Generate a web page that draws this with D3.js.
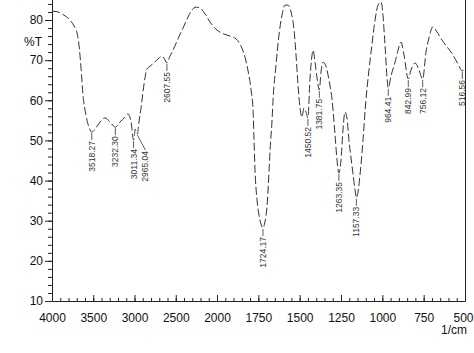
<!DOCTYPE html>
<html>
<head>
<meta charset="utf-8">
<script src="https://cdn.jsdelivr.net/npm/d3@7"></script>
<style>
  body { margin: 0; background: #fff; }
  svg { display: block; font-family: Arial, "Liberation Sans", sans-serif; }
</style>
</head>
<body>
<script>
// spectrum trace, wavenumber (1/cm) and transmittance (%T)
const wavenumbers = [
  4000, 3927, 3855, 3782, 3733, 3697, 3673, 3648, 3624, 3588, 3552, 3518,
  3467, 3418, 3358, 3297, 3232, 3176, 3115, 3079, 3042, 3011, 2990, 2965,
  2946, 2921, 2897, 2873, 2849, 2812, 2764, 2715, 2667, 2642, 2607, 2570,
  2533, 2473, 2412, 2352, 2303, 2255, 2206, 2145, 2085, 2000, 1958, 1921,
  1885, 1855, 1831, 1813, 1794, 1782, 1776, 1770, 1758, 1746, 1734, 1722,
  1710, 1698, 1685, 1679, 1667, 1661, 1643, 1625, 1607, 1589, 1571, 1552,
  1534, 1522, 1510, 1498, 1486, 1474, 1462, 1450, 1438, 1425, 1419, 1407,
  1395, 1381, 1371, 1359, 1341, 1323, 1304, 1286, 1274, 1263, 1250, 1238,
  1226, 1214, 1202, 1184, 1165, 1157, 1135, 1117, 1099, 1081, 1063, 1044,
  1026, 1008, 996, 984, 964, 948, 923, 905, 887, 869, 843, 827,
  802, 778, 756, 736, 718, 694, 669, 639, 603, 573, 542, 516, 500
];
const transmittance = [
  82.2, 82.0, 81.2, 80.0, 78.5, 76.8, 73.8, 68.0, 61.3, 56.3, 53.3, 52.1,
  53.1, 54.6, 55.6, 54.6, 53.3, 54.6, 55.8, 56.6, 54.6, 50.1, 52.8, 51.6,
  54.6, 58.1, 62.1, 65.6, 67.8, 68.5, 69.3, 70.3, 71.0, 70.5, 69.3, 71.0,
  72.5, 75.3, 78.0, 80.7, 82.5, 83.2, 83.0, 81.5, 79.5, 77.5, 76.5, 76.0,
  75.3, 73.5, 70.8, 67.5, 62.6, 57.6, 50.1, 42.6, 35.2, 31.4, 29.2, 28.2,
  29.7, 33.4, 42.6, 47.6, 55.1, 60.1, 68.8, 76.3, 81.2, 83.7, 83.7, 82.0,
  77.5, 71.3, 63.8, 58.1, 55.8, 58.1, 57.1, 55.6, 65.1, 71.3, 72.5, 69.5,
  65.6, 62.6, 67.0, 69.5, 68.5, 65.1, 60.1, 51.4, 45.1, 41.9, 45.1, 52.6,
  57.1, 55.6, 50.1, 43.9, 37.7, 35.7, 41.4, 50.1, 60.1, 67.5, 73.8, 80.0,
  83.7, 84.5, 81.2, 73.8, 63.1, 66.0, 69.5, 72.5, 74.5, 71.3, 65.3, 67.5,
  69.3, 67.5, 65.3, 72.0, 75.5, 78.3, 77.0, 75.0, 73.0, 71.3, 69.0, 67.3, 68.3
];

// labelled absorption peaks
const peakLabels = [
  "3518.27", "3232.30", "3011.34", "2965.04", "2607.55", "1724.17", "1450.52",
  "1381.75", "1263.35", "1157.33", "964.41", "842.99", "756.12", "516.56"
];
const peakWn = [3518, 3232, 3011, 2965, 2607, 1722, 1450, 1381, 1263, 1157, 964, 843, 756, 516];
const peakT = [52.1, 53.3, 50.1, 51.6, 69.3, 28.2, 55.6, 62.6, 41.9, 35.7, 63.1, 65.3, 65.3, 67.3];

const xTicks = [4000, 3500, 3000, 2500, 2000, 1750, 1500, 1250, 1000, 750, 500];
const yTicks = [10, 20, 30, 40, 50, 60, 70, 80];

const width = 474;
const height = 353;
const left = 52;
const right = 465;
const bottom = 301;

// the instrument doubles the scale below 2000 1/cm
const xScale = d3.scaleLinear().domain([4000, 2000, 500]).range([left, 217, right]);
const yScale = d3.scaleLinear().domain([10, 80]).range([bottom, 20]);

const svg = d3
  .select("body")
  .append("svg")
  .attr("width", width)
  .attr("height", height);

// minor ticks
const xMinor = d3.range(4000, 2000, -100).concat(d3.range(2000, 499, -50));
const yMinor = d3.range(10, 86, 2);

svg
  .append("g")
  .attr("transform", `translate(0 ${bottom})`)
  .call(d3.axisBottom(xScale).tickValues(xMinor).tickSize(-3).tickFormat(""))
  .call((g) => g.select(".domain").remove());

svg
  .append("g")
  .attr("transform", `translate(${left} 0)`)
  .call(d3.axisLeft(yScale).tickValues(yMinor).tickSize(4).tickFormat(""))
  .call((g) => g.select(".domain").remove());

const xAxis = svg
  .append("g")
  .attr("transform", `translate(0 ${bottom})`)
  .call(
    d3.axisBottom(xScale)
      .tickValues(xTicks)
      .tickFormat(d3.format("d"))
      .tickSize(-6)
      .tickPadding(12)
      .tickSizeOuter(0)
  );

// keep the last label inside the window
xAxis.selectAll(".tick text").filter((d) => d === 500).attr("dx", -2);

const yAxis = svg
  .append("g")
  .attr("transform", `translate(${left} 0)`)
  .call(d3.axisLeft(yScale).tickValues(yTicks).tickSize(7).tickPadding(2).tickSizeOuter(0));

yAxis.select(".domain").attr("d", `M0.5,${bottom + 0.5}V0`);

svg.selectAll(".tick text").attr("font-size", 12).attr("fill", "#111");
svg.selectAll(".domain, .tick line").attr("stroke", "#222");

// right frame
svg
  .append("line")
  .attr("x1", right + 0.5)
  .attr("x2", right + 0.5)
  .attr("y1", 0)
  .attr("y2", bottom + 0.5)
  .attr("stroke", "#222");

svg
  .append("text")
  .attr("x", 42)
  .attr("y", yScale(74.8) + 5)
  .attr("text-anchor", "end")
  .attr("font-size", 12)
  .attr("fill", "#111")
  .text("%T");

svg
  .append("text")
  .attr("x", right + 2)
  .attr("y", 334)
  .attr("text-anchor", "end")
  .attr("font-size", 12)
  .attr("fill", "#111")
  .text("1/cm");

// spectrum
const points = wavenumbers.map((w, i) => [xScale(w), yScale(transmittance[i])]);

svg
  .append("path")
  .attr("d", d3.line().curve(d3.curveMonotoneX)(points))
  .attr("fill", "none")
  .attr("stroke", "#333")
  .attr("stroke-width", 1)
  .attr("stroke-dasharray", "8,3");

// peak labels: leader then rotated text, nudged right when crowded
let prevX = -100;
const shifts = peakWn.map((w) => {
  const x = xScale(w);
  const dx = x - prevX < 8 ? 8 : 0;
  prevX = x + dx;
  return dx;
});

const peaks = svg
  .selectAll(".peak")
  .data(peakLabels)
  .enter()
  .append("g")
  .attr("class", "peak")
  .attr("transform", (d, i) => `translate(${xScale(peakWn[i])} ${yScale(peakT[i])})`);

peaks
  .append("line")
  .attr("y1", 1)
  .attr("x2", (d, i) => shifts[i])
  .attr("y2", (d, i) => (shifts[i] ? 16 : 8))
  .attr("stroke", "#333")
  .attr("stroke-width", 0.8);

peaks
  .append("text")
  .attr("transform", (d, i) => `translate(${3 + shifts[i]} ${shifts[i] ? 17 : 9}) rotate(-90)`)
  .attr("text-anchor", "end")
  .attr("font-size", 8.5)
  .attr("fill", "#333")
  .text((d) => d);
</script>
</body>
</html>
